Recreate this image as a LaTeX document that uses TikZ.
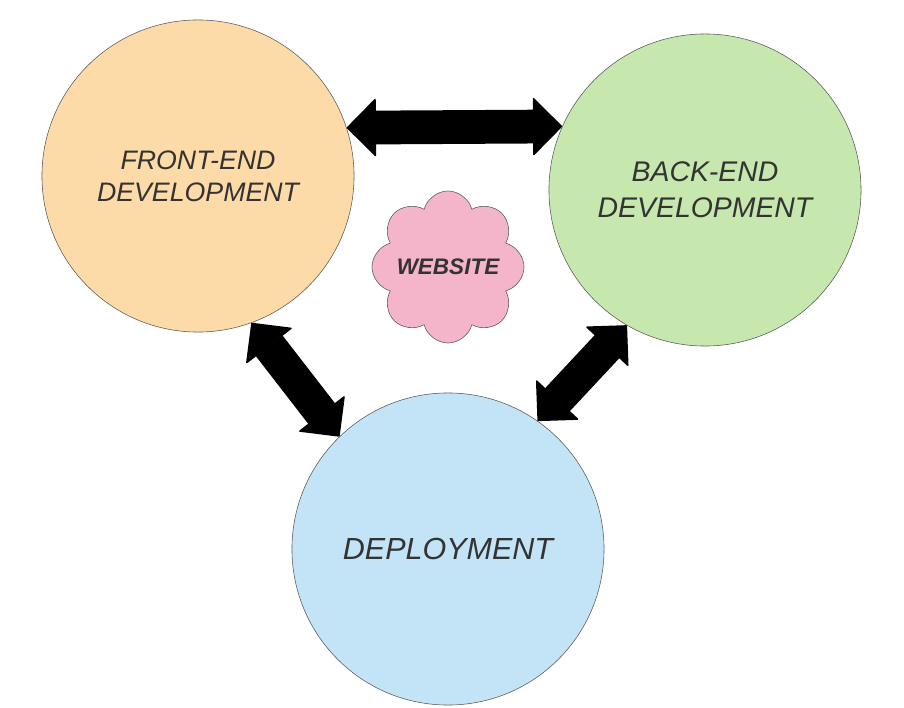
\documentclass[tikz,border=0pt]{standalone}
\usepackage{fontspec}
\setmainfont{Liberation Sans}
\usetikzlibrary{arrows.meta,shapes.symbols}
\definecolor{FrontFill}{HTML}{FDDBA9}
\definecolor{BackFill}{HTML}{C6E8AF}
\definecolor{DeployFill}{HTML}{C3E4F6}
\definecolor{CloudFill}{HTML}{F4B5CA}
\definecolor{TextGray}{HTML}{333333}
\definecolor{EdgeGray}{HTML}{595959}

\begin{document}
\begin{tikzpicture}[x=0.025cm, y=-0.025cm,
   area/.style={draw=EdgeGray, circle, minimum size=7.8cm, inner sep=0pt,
                align=center, text=TextGray},
   link/.style={line width=24pt,
                {Triangle[width=42pt,length=21pt,line width=1pt,round]}-{Triangle[width=42pt,length=21pt,line width=1pt,round]}}]
  \useasboundingbox (0,0) rectangle (904,708);
  \node[area, fill=FrontFill, font=\fontsize{19}{22.8}\selectfont\itshape] (fe) at (198,176) {FRONT-END\\DEVELOPMENT};
  \node[area, fill=BackFill, font=\fontsize{20.2}{25.6}\selectfont\itshape] (be) at (705,190) {BACK-END\\DEVELOPMENT};
  \node[area, fill=DeployFill, font=\fontsize{21.7}{26}\selectfont\itshape] (dep) at (448,549) {DEPLOYMENT};
  \node[cloud, draw=EdgeGray, fill=CloudFill, cloud puffs=8, aspect=1,
        minimum width=3.8cm, minimum height=3.8cm, inner sep=0pt, text=TextGray,
        font=\fontsize{16}{19}\selectfont\bfseries\itshape] (web) at (448,267) {\makebox[0pt]{WEBSITE}};
  \draw[link] (fe.18) -- (be.156);
  \draw[link] (fe.-70) -- (dep.134);
  \draw[link] (be.-120) -- (dep.55);
\end{tikzpicture}
\end{document}
